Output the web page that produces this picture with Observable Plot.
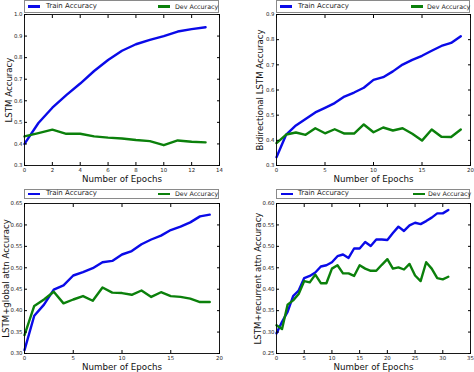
<!DOCTYPE html>
<html><head><meta charset="utf-8">
<script src="https://cdn.jsdelivr.net/npm/d3@7"></script>
<script src="https://cdn.jsdelivr.net/npm/@observablehq/plot@0.6"></script>
<style>
body{margin:0;background:#fff;}
#wrap{position:relative;width:474px;height:372px;overflow:hidden;font-family:"DejaVu Sans",sans-serif;background:#fff;}
.panel{position:absolute;width:237px;height:186px;}
.panel svg{position:absolute;left:0;top:0;}
.legend{position:absolute;border:1px solid #8a8a8a;background:#fff;box-sizing:border-box;color:#222;}
.legend .ln{position:absolute;height:2.5px;top:50%;margin-top:-1.25px;}
.legend .tx{position:absolute;top:50%;transform:translateY(-52%);line-height:1;white-space:nowrap;}
</style></head>
<body><div id="wrap"></div>
<script>
// ---- data ----
const lstmTrain = [0.400,0.497,0.568,0.626,0.680,0.738,0.789,0.832,0.862,0.882,0.900,0.921,0.932,0.941];
const lstmDev   = [0.435,0.450,0.466,0.447,0.447,0.435,0.429,0.425,0.418,0.413,0.394,0.416,0.410,0.407];
const biTrain = [0.333,0.423,0.459,0.485,0.511,0.529,0.548,0.574,0.590,0.609,0.640,0.651,0.674,0.701,0.720,0.736,0.756,0.775,0.787,0.814];
const biDev   = [0.389,0.423,0.431,0.422,0.448,0.428,0.444,0.427,0.427,0.463,0.432,0.451,0.439,0.448,0.426,0.399,0.443,0.414,0.413,0.443];
const globTrain = [0.308,0.388,0.414,0.449,0.459,0.482,0.490,0.499,0.513,0.516,0.531,0.539,0.555,0.566,0.575,0.588,0.596,0.606,0.620,0.624];
const globDev   = [0.343,0.411,0.426,0.444,0.417,0.426,0.434,0.423,0.454,0.442,0.441,0.437,0.447,0.432,0.443,0.434,0.432,0.428,0.420,0.420];
const recTrain = [0.297,0.324,0.347,0.384,0.397,0.426,0.431,0.439,0.453,0.456,0.463,0.477,0.481,0.473,0.495,0.495,0.510,0.501,0.516,0.516,0.515,0.531,0.546,0.536,0.549,0.555,0.552,0.559,0.567,0.577,0.577,0.585];
const recDev   = [0.316,0.307,0.364,0.374,0.389,0.419,0.416,0.434,0.414,0.414,0.448,0.456,0.437,0.437,0.431,0.456,0.448,0.443,0.443,0.457,0.470,0.448,0.451,0.446,0.459,0.432,0.419,0.463,0.448,0.426,0.423,0.429];

const xTicks14 = [0,2,4,6,8,10,12,14];
const xTicks20 = [0,5,10,15,20];
const xTicks35 = [0,5,10,15,20,25,30,35];
const yTicksA = [0.3,0.4,0.5,0.6,0.7,0.8,0.9,1.0];
const yTicksB = [0.3,0.4,0.5,0.6,0.7,0.8,0.9];
const yTicksC = [0.30,0.35,0.40,0.45,0.50,0.55,0.60,0.65];
const yTicksD = [0.25,0.30,0.35,0.40,0.45,0.50,0.55,0.60];

const yLabels = ["LSTM Accuracy","Bidirectional LSTM Accuracy","LSTM+global attn Accuracy","LSTM+recurrent attn Accuracy"];
const xLabel = "Number of Epochs";
const seriesNames = ["Train Accuracy","Dev Accuracy"];

const BLUE = "#0a0ae8", GREEN = "#0b800b";

function panel(o){
  const xt = o.xTicks, yt = o.yTicks;
  const tickOpts = {tickSize:-3, fill:"none", label:null, stroke:"#000"};
  return Plot.plot({
    width:237, height:186,
    marginLeft:o.ml, marginRight:o.mr, marginTop:o.mt, marginBottom:o.mb,
    style:{fontFamily:"DejaVu Sans", fontSize:"5.4px", color:"#222", background:"transparent", overflow:"visible"},
    x:{domain:[xt[0], xt[xt.length-1]]},
    y:{domain:[yt[0], yt[yt.length-1]]},
    marks:[
      Plot.lineY(o.train, {x:(d,i)=>i, y:d=>d, stroke:BLUE, strokeWidth:2.4}),
      Plot.lineY(o.dev, {x:(d,i)=>i, y:d=>d, stroke:GREEN, strokeWidth:2.4}),
      Plot.frame({stroke:"#000", strokeWidth:0.9}),
      Plot.axisX(xt, {anchor:"bottom", tickSize:0, tickPadding:3, label:null, tickFormat:d3.format("d")}),
      Plot.axisX(xt, {anchor:"bottom", ...tickOpts}),
      Plot.axisX(xt, {anchor:"top", ...tickOpts}),
      Plot.axisY(yt, {anchor:"left", tickSize:0, tickPadding:2, label:null, tickFormat:d3.format(o.yFmt)}),
      Plot.axisY(yt, {anchor:"left", ...tickOpts}),
      Plot.axisY(yt, {anchor:"right", ...tickOpts}),
      Plot.text([xLabel], {frameAnchor:"bottom", textAnchor:"middle", lineAnchor:"middle", dy:13.5, fontSize:8.7, fill:"#111"}),
      Plot.text([o.ylabel], {frameAnchor:"left", textAnchor:"middle", lineAnchor:"middle", rotate:-90, dx:o.ydx, fontSize:8.6, fill:"#111"})
    ]
  });
}

function legend(el, L){
  const box = document.createElement("div");
  box.className = "legend";
  Object.assign(box.style, {left:L.left+"px", top:L.top+"px", width:L.width+"px", height:L.height+"px"});
  const items = [[seriesNames[0], BLUE, L.l1, L.t1, 7],[seriesNames[1], GREEN, L.l2, L.t2, 6.3]];
  for (const [name, col, lx, tx, fs] of items){
    const ln = document.createElement("div"); ln.className="ln";
    Object.assign(ln.style, {left:lx+"px", width:"12px", background:col});
    const t = document.createElement("div"); t.className="tx"; t.textContent=name;
    t.style.left = tx+"px"; t.style.fontSize = fs+"px";
    box.appendChild(ln); box.appendChild(t);
  }
  el.appendChild(box);
}

const wrap = document.getElementById("wrap");
const cfg = [
  {pos:[0,0], train:lstmTrain, dev:lstmDev, xTicks:xTicks14, yTicks:yTicksA, yFmt:".1f", ylabel:yLabels[0], ml:24, mr:18, mt:14, mb:21, ydx:-15,
   leg:{left:24, top:0, width:195, height:13, l1:3, t1:21, l2:133, t2:150}},
  {pos:[237,0], train:biTrain, dev:biDev, xTicks:xTicks20, yTicks:yTicksB, yFmt:".1f", ylabel:yLabels[1], ml:39, mr:4, mt:14, mb:21, ydx:-16.5,
   leg:{left:39, top:0, width:194, height:13, l1:3, t1:21, l2:134, t2:150}},
  {pos:[0,186], train:globTrain, dev:globDev, xTicks:xTicks20, yTicks:yTicksC, yFmt:".2f", ylabel:yLabels[2], ml:24, mr:18, mt:17, mb:19, ydx:-18.5,
   leg:{left:24, top:3, width:195, height:10, l1:3, t1:21, l2:133, t2:150}},
  {pos:[237,186], train:recTrain, dev:recDev, xTicks:xTicks35, yTicks:yTicksD, yFmt:".2f", ylabel:yLabels[3], ml:39, mr:4, mt:17, mb:19, ydx:-18,
   leg:{left:39, top:3, width:194, height:10, l1:4, t1:21, l2:136, t2:151}}
];
for (const c of cfg){
  const d = document.createElement("div");
  d.className = "panel";
  d.style.left = c.pos[0]+"px"; d.style.top = c.pos[1]+"px";
  d.appendChild(panel(c));
  legend(d, c.leg);
  wrap.appendChild(d);
}
</script>
</body></html>
